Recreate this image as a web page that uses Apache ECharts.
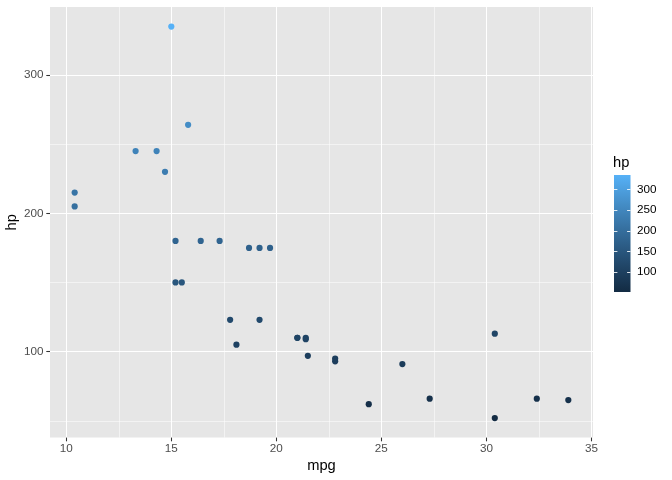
<!DOCTYPE html>
<html><head><meta charset="utf-8">
<script src="https://cdn.jsdelivr.net/npm/echarts@6/dist/echarts.min.js"></script>
<style>html,body{margin:0;padding:0;background:#fff}#c{width:672px;height:480px}</style>
</head><body><div id="c"></div>
<script>
const mpg = [21.0,21.0,22.8,21.4,18.7,18.1,14.3,24.4,22.8,19.2,17.8,16.4,17.3,15.2,10.4,10.4,14.7,32.4,30.4,33.9,21.5,15.5,15.2,13.3,19.2,27.3,26.0,30.4,15.8,19.7,15.0,21.4];
const hp  = [110,110,93,110,175,105,245,62,95,123,123,180,180,180,205,215,230,66,52,65,97,150,150,245,175,66,91,113,264,175,335,109];
const xMajor = [10,15,20,25,30,35];
const xMinor = [12.5,17.5,22.5,27.5,32.5];
const yMajor = [100,200,300];
const yMinor = [50,150,250];
const legendTicks = [100,150,200,250,300];
const gradColors = ['#132B43','#22496C','#336A98','#448DC6','#56B1F7'];

const hpMin = Math.min(...hp), hpMax = Math.max(...hp);
const xr = [Math.min(...mpg), Math.max(...mpg)], yr = [hpMin, hpMax];
const xPad = (xr[1]-xr[0])*0.05, yPad = (yr[1]-yr[0])*0.05;
const data = mpg.map((m,i)=>[m,hp[i]]);
const FONT = "'Liberation Sans', Arial, sans-serif";

const chart = echarts.init(document.getElementById('c'), null, {renderer:'canvas'});
chart.setOption({
  animation:false,
  textStyle:{fontFamily:FONT},
  title:{text:'hp', left:613, top:155, padding:0, textStyle:{fontSize:14.7, fontWeight:'normal', color:'#000', fontFamily:FONT}},
  grid:[
    {left:50, top:7, right:79, bottom:42.4, show:true, backgroundColor:'#E6E6E6', borderWidth:0, containLabel:false, outerBoundsMode:'none'},
    {left:614, top:175, width:16.5, height:117, show:true, borderWidth:0, containLabel:false, outerBoundsMode:'none',
     backgroundColor:{type:'linear', x:0, y:1, x2:0, y2:0,
       colorStops: gradColors.map((c,i)=>({offset:i/(gradColors.length-1), color:c}))}}
  ],
  visualMap:{show:false, type:'continuous', dimension:1, seriesIndex:0, min:hpMin, max:hpMax, inRange:{color:gradColors}},
  xAxis:[
    {gridIndex:0, type:'value', min:xr[0]-xPad, max:xr[1]+xPad, position:'bottom',
     axisLine:{show:false}, axisLabel:{show:false}, axisTick:{show:false, customValues:xMinor},
     splitLine:{show:true, lineStyle:{color:'#fff', width:0.53}}},
    {gridIndex:0, type:'value', min:xr[0]-xPad, max:xr[1]+xPad, position:'bottom',
     name:'mpg', nameLocation:'middle', nameGap:21, nameMoveOverlap:false,
     nameTextStyle:{fontSize:14.7, color:'#000', fontFamily:FONT, verticalAlign:'top'},
     axisLine:{show:false, onZero:false},
     axisTick:{show:true, customValues:xMajor, length:3.7, lineStyle:{color:'#333', width:1.07}},
     axisLabel:{customValues:xMajor, color:'#4D4D4D', fontSize:11.7, margin:5.5, fontFamily:FONT},
     splitLine:{show:true, lineStyle:{color:'#fff', width:1.07}}},
    {gridIndex:1, type:'value', min:0, max:1, show:false}
  ],
  yAxis:[
    {gridIndex:0, type:'value', min:yr[0]-yPad, max:yr[1]+yPad, position:'left',
     axisLine:{show:false}, axisLabel:{show:false}, axisTick:{show:false, customValues:yMinor},
     splitLine:{show:true, lineStyle:{color:'#fff', width:0.53}}},
    {gridIndex:0, type:'value', min:yr[0]-yPad, max:yr[1]+yPad, position:'left',
     name:'hp', nameLocation:'middle', nameGap:31, nameRotate:90, nameMoveOverlap:false,
     nameTextStyle:{fontSize:14.7, color:'#000', fontFamily:FONT},
     axisLine:{show:false, onZero:false},
     axisTick:{show:true, customValues:yMajor, length:3.7, lineStyle:{color:'#333', width:1.07}},
     axisLabel:{customValues:yMajor, color:'#4D4D4D', fontSize:11.7, margin:6.5, fontFamily:FONT},
     splitLine:{show:true, lineStyle:{color:'#fff', width:1.07}}},
    {gridIndex:1, type:'value', min:hpMin, max:hpMax, position:'right',
     axisLine:{show:false, onZero:false},
     axisTick:{show:true, inside:true, customValues:legendTicks, length:3.4, lineStyle:{color:'rgba(255,255,255,0.85)', width:1}},
     axisLabel:{customValues:legendTicks, color:'#000', fontSize:11.7, margin:6.5, fontFamily:FONT},
     splitLine:{show:false}},
    {gridIndex:1, type:'value', min:hpMin, max:hpMax, position:'left',
     axisLine:{show:false, onZero:false},
     axisTick:{show:true, inside:true, customValues:legendTicks, length:3.4, lineStyle:{color:'rgba(255,255,255,0.85)', width:1}},
     axisLabel:{show:false},
     splitLine:{show:false}}
  ],
  series:[{
    type:'scatter', xAxisIndex:1, yAxisIndex:1, data:data, symbolSize:6.2,
    itemStyle:{opacity:1}, silent:true
  }]
});
</script></body></html>
